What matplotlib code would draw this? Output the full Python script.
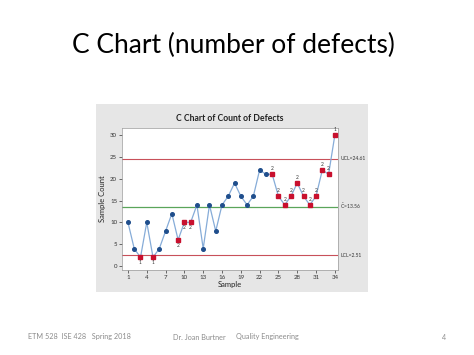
import matplotlib
matplotlib.use("Agg")
import matplotlib.pyplot as plt
from matplotlib.patches import Rectangle
import numpy as np

samples = list(range(1, 35))
counts = [10, 4, 2, 10, 2, 4, 8, 12, 6, 10, 10, 14, 4, 14, 8, 14, 16, 19, 16, 14,
          16, 22, 21, 21, 16, 14, 16, 19, 16, 14, 16, 22, 21, 30]
# test failure labels for flagged samples
flags = {3: "1", 5: "1", 9: "2", 10: "2", 11: "2", 24: "2", 25: "2", 26: "2", 27: "2",
         28: "2", 29: "2", 30: "2", 31: "2", 32: "2", 33: "2", 34: "1"}
cbar = 13.56
ucl = 24.61
lcl = 2.51
xticks = [1, 4, 7, 10, 13, 16, 19, 22, 25, 28, 31, 34]
yticks = [0, 5, 10, 15, 20, 25, 30]

W, H = 474, 355
fig = plt.figure(figsize=(W / 100, H / 100), dpi=100)
fig.patch.set_facecolor("white")
plt.rcParams['font.family'] = ['Lato', 'DejaVu Sans']

# slide title
fig.text(233 / W, 1 - 45 / H, "C Chart (number of defects)", ha="center", va="center",
         fontsize=19, color="black", family=['Lato', 'DejaVu Sans'])

# grey Minitab panel
fig.patches.append(Rectangle((96 / W, 1 - 292 / H), (368 - 96) / W, (292 - 104) / H,
                             transform=fig.transFigure, facecolor="#e6e6e6",
                             edgecolor="none", zorder=-5))

ax = fig.add_axes([122 / W, 1 - 270 / H, (338 - 122) / W, (270 - 128) / H])
ax.set_zorder(2)
ax.set_facecolor("white")
ax.set_xlim(0.05, 34.5)
ax.set_ylim(-0.9, 31.6)

ax.axhline(ucl, color="#c8505a", lw=0.8, zorder=1)
ax.axhline(lcl, color="#c8505a", lw=0.8, zorder=1)
ax.axhline(cbar, color="#5aa55a", lw=0.9, zorder=1)

ax.plot(samples, counts, color="#86acd8", lw=0.9, zorder=2)
blue_x = [s for s in samples if s not in flags]
blue_y = [counts[s - 1] for s in blue_x]
red_x = [s for s in samples if s in flags]
red_y = [counts[s - 1] for s in red_x]
ax.plot(blue_x, blue_y, "o", color="#1f4e8c", ms=2.6, zorder=3)
ax.plot(red_x, red_y, "s", color="#c8102e", ms=3.0, zorder=3)
for s in red_x:
    v = counts[s - 1]
    if v > cbar:
        ax.text(s, v + 0.7, flags[s], ha="center", va="bottom", fontsize=3.5, color="#333333")
    else:
        ax.text(s, v - 0.7, flags[s], ha="center", va="top", fontsize=3.5, color="#333333")

ax.set_xticks(xticks)
ax.set_yticks(yticks)
ax.tick_params(labelsize=4.4, length=2, width=0.5, colors="#333333", pad=1.5)
for sp in ax.spines.values():
    sp.set_linewidth(0.5)
    sp.set_color("#999999")
ax.set_xlabel("Sample", fontsize=5.5, labelpad=1, color="#222222")
ax.set_ylabel("Sample Count", fontsize=5.5, labelpad=3, color="#222222")
ax.set_title("C Chart of Count of Defects", fontsize=6.2, fontweight="bold", pad=5, color="#222222")

ax.text(1.01, ucl, "UCL=24.61", transform=ax.get_yaxis_transform(), fontsize=3.6,
        va="center", ha="left", color="#333333")
ax.text(1.01, cbar, r"$\bar{\mathrm{C}}$=13.56", transform=ax.get_yaxis_transform(), fontsize=3.6,
        va="center", ha="left", color="#333333")
ax.text(1.01, lcl, "LCL=2.51", transform=ax.get_yaxis_transform(), fontsize=3.6,
        va="center", ha="left", color="#333333")

# footer
fc = "#8c8c8c"
fig.text(28 / W, 1 - 337 / H, "ETM 528  ISE 428   Spring 2018", fontsize=5.2, color=fc, va="center")
fig.text(173 / W, 1 - 337 / H, "Dr. Joan Burtner", fontsize=5.2, color=fc, va="center")
fig.text(236 / W, 1 - 337 / H, "Quality Engineering", fontsize=5.2, color=fc, va="center")
fig.text(446 / W, 1 - 337 / H, "4", fontsize=5.2, color=fc, va="center", ha="right")

fig.savefig("out.png", dpi=100)
